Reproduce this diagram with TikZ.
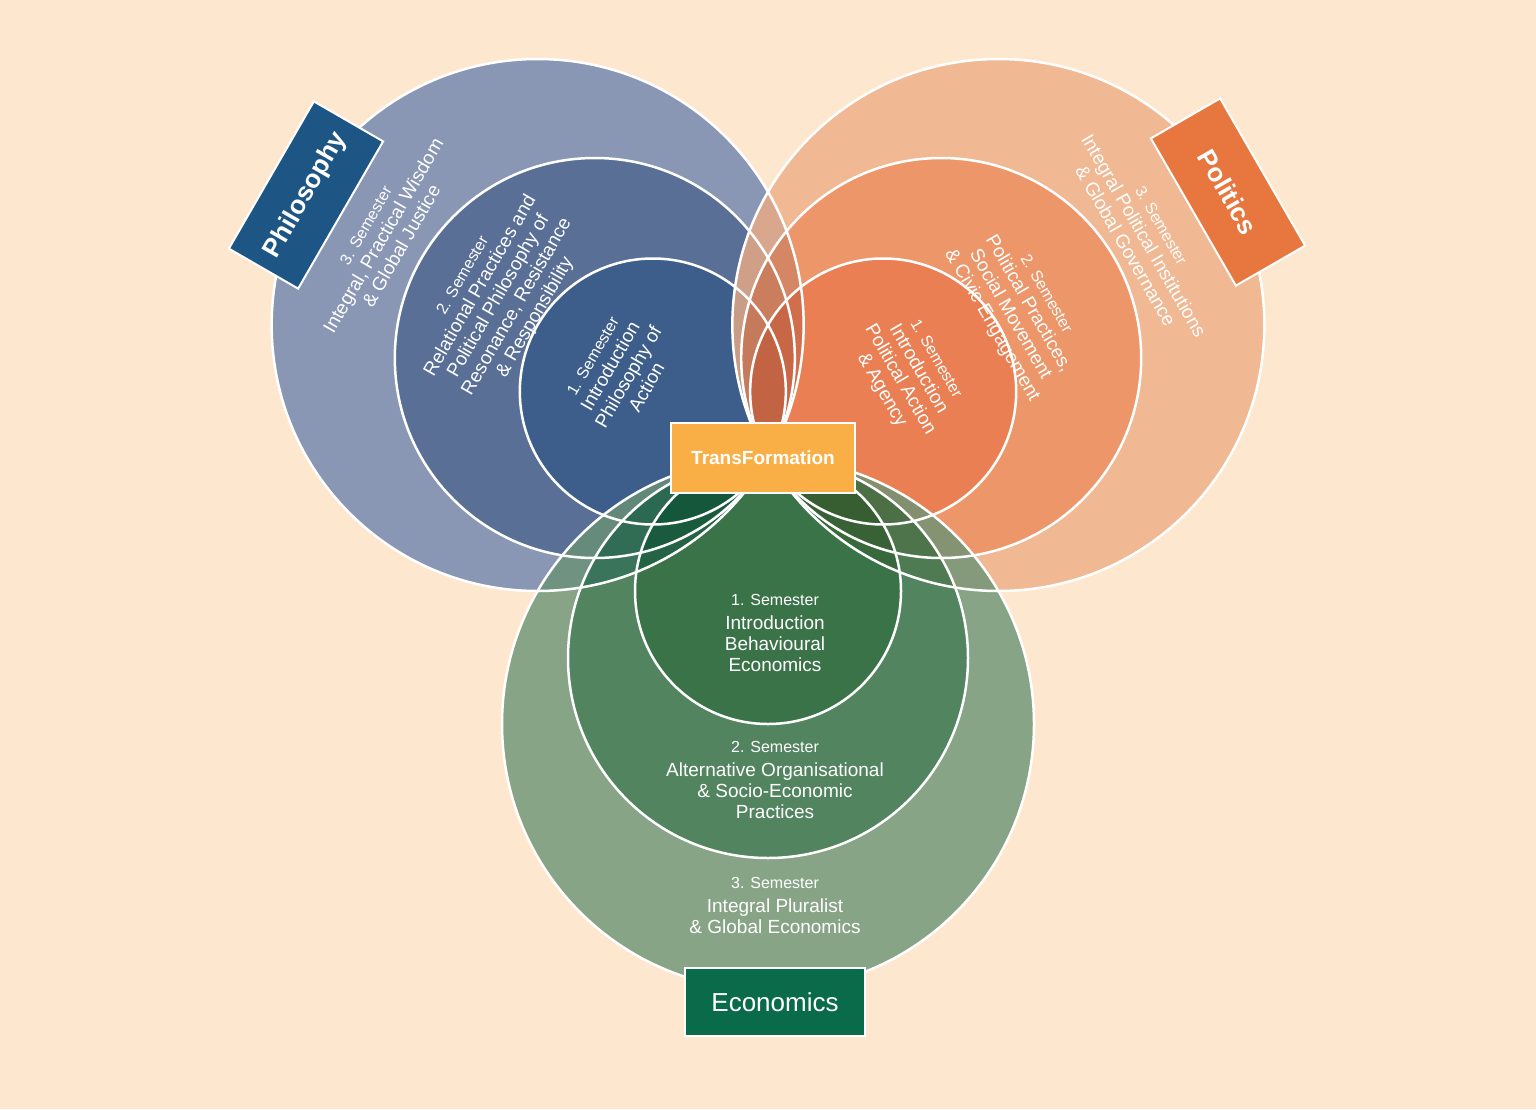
\documentclass[tikz,border=0pt]{standalone}
\usepackage{fontspec}
\setmainfont{Liberation Sans}
\newcommand\semf{\fontsize{16}{20}\selectfont}
\begin{document}
\begin{tikzpicture}[x=1pt,y=-1pt,
  ring/.style={draw=white,line width=2.5pt},
  lab/.style={text=white,align=center,font=\fontsize{19}{21}\selectfont},
  tag/.style={fill=#1,draw=white,line width=2pt,text=white,minimum width=180pt,minimum height=68pt,font=\bfseries\fontsize{26}{30}\selectfont}]
\definecolor{bg}{HTML}{FDE8CF}
\definecolor{p1}{HTML}{6D83AE}\definecolor{p2}{HTML}{315188}\definecolor{p3}{HTML}{0D3C79}
\definecolor{q1}{HTML}{EDAC84}\definecolor{q2}{HTML}{E88251}\definecolor{q3}{HTML}{E46533}
\definecolor{e1}{HTML}{6A9375}\definecolor{e2}{HTML}{276C44}\definecolor{e3}{HTML}{0B5628}
\definecolor{tfc}{HTML}{F9AF45}\definecolor{phc}{HTML}{1D5585}\definecolor{poc}{HTML}{E8773F}\definecolor{ecc}{HTML}{0A6B4A}
\fill[bg] (0,0) rectangle (1536,1109);
\useasboundingbox (0,0) rectangle (1536,1109);
\begin{scope}[transparency group,opacity=0.8]
\fill[p1] (768-0.866*266,458-0.5*266) circle (266);
\fill[p2] (768-0.866*200,458-0.5*200) circle (200);
\fill[p3] (768-0.866*133,458-0.5*133) circle (133);
\end{scope}
\begin{scope}[transparency group,opacity=0.8]
\fill[q1] (768+0.866*266,458-0.5*266) circle (266);
\fill[q2] (768+0.866*200,458-0.5*200) circle (200);
\fill[q3] (768+0.866*133,458-0.5*133) circle (133);
\end{scope}
\begin{scope}[transparency group,opacity=0.8]
\fill[e1] (768,458+266) circle (266);
\fill[e2] (768,458+200) circle (200);
\fill[e3] (768,458+133) circle (133);
\end{scope}
\foreach \r in {266,200,133}{
  \draw[ring] (768-0.866*\r,458-0.5*\r) circle (\r);
  \draw[ring] (768+0.866*\r,458-0.5*\r) circle (\r);
  \draw[ring] (768,458+\r) circle (\r);
}
% philosophy texts
\node[lab,rotate=60] (pt3) at (384,236) {{\semf 3. Semester}\\Integral, Practical Wisdom\\\& Global Justice};
\node[lab,rotate=60] (pt2) at (500,297) {{\semf 2. Semester}\\Relational Practices and\\Political Philosophy of\\Resonance, Resistance\\\& Responsibility};
\node[lab,rotate=60] (pt1) at (620,372) {{\semf 1. Semester}\\Introduction\\Philosophy of\\Action};
% politics texts
\node[lab,rotate=-60] (qt3) at (1143,236) {{\semf 3. Semester}\\Integral Political Institutions\\\& Global Governance};
\node[lab,rotate=-60] (qt2) at (1018,310) {{\semf 2. Semester}\\Political Practices,\\Social Movement\\\& Civic Engagement};
\node[lab,rotate=-60] (qt1) at (908,375) {{\semf 1. Semester}\\Introduction\\Political Action\\\& Agency};
% economics texts
\node[lab] (et1) at (775,633) {{\semf 1. Semester}\\[3pt]Introduction\\Behavioural\\Economics};
\node[lab] (et2) at (775,780) {{\semf 2. Semester}\\[3pt]Alternative Organisational\\\& Socio-Economic\\Practices};
\node[lab] (et3) at (775,905) {{\semf 3. Semester}\\[3pt]Integral Pluralist\\\& Global Economics};
% tags
\node[tag=phc,rotate=60,minimum width=170pt,minimum height=80pt] (phil) at (306,195) {Philosophy};
\node[tag=poc,rotate=-60,minimum width=170pt,minimum height=80pt] (pol) at (1228,192) {Politics};
\node[tag=ecc,font=\fontsize{26}{30}\selectfont] (eco) at (775,1002) {Economics};
\node[tag=tfc,minimum width=184pt,minimum height=70pt,font=\bfseries\fontsize{19}{22}\selectfont] (tf) at (763,458) {TransFormation};
\end{tikzpicture}
\end{document}
